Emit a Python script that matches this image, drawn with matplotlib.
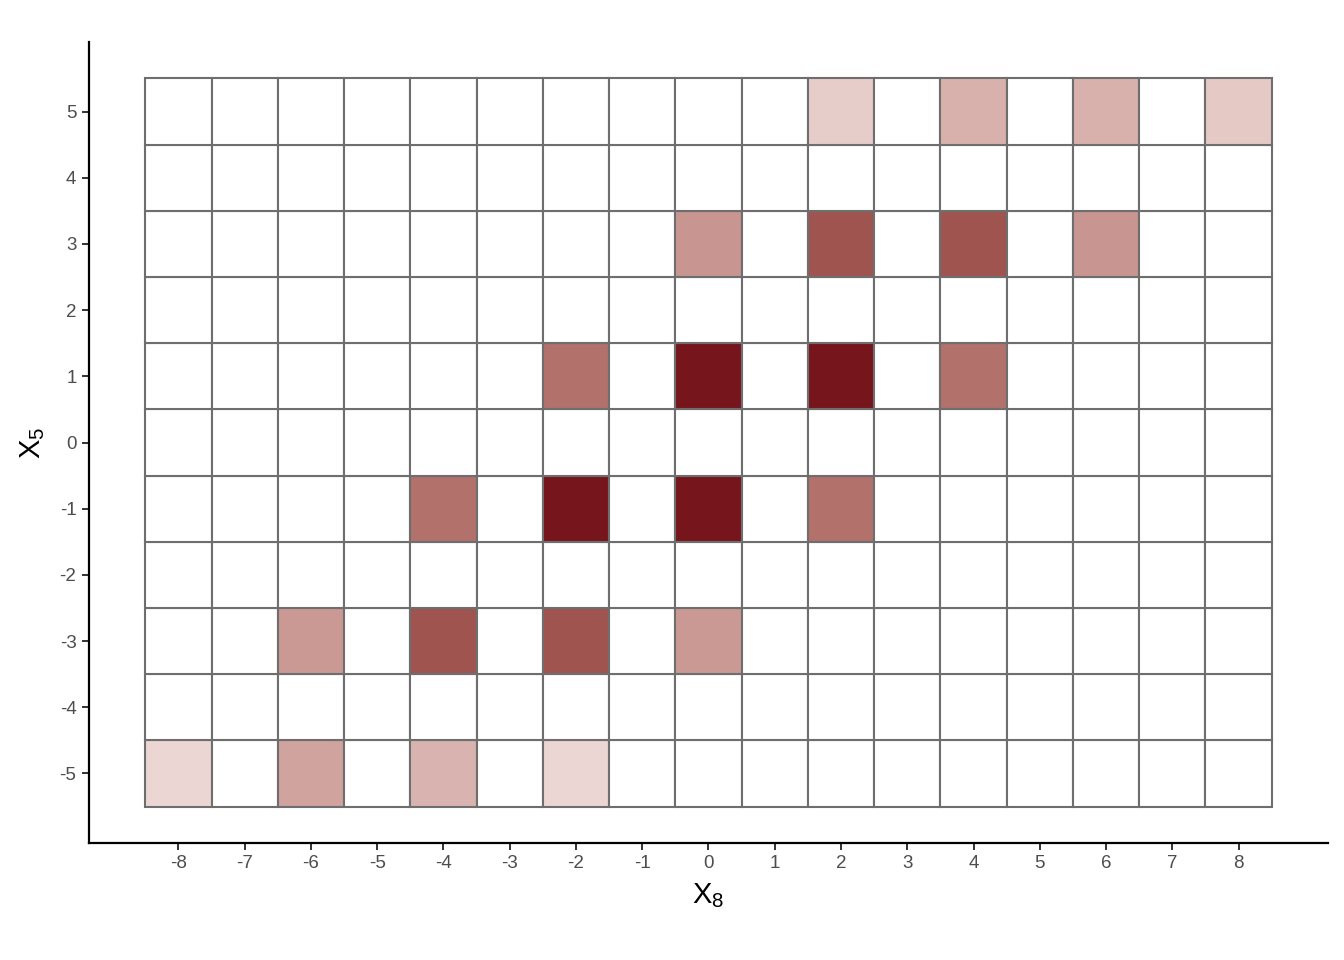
import matplotlib
matplotlib.use("Agg")
import matplotlib.pyplot as plt
import numpy as np
from matplotlib.colors import ListedColormap, to_rgb

plt.rcParams['font.family'] = ['Liberation Sans', 'DejaVu Sans']
plt.rcParams['mathtext.fontset'] = 'custom'
plt.rcParams['mathtext.rm'] = 'Liberation Sans'
plt.rcParams['axes.unicode_minus'] = False

x_levels = list(range(-8, 9))
y_levels = list(range(-5, 6))

# non-zero cells (x8, x5, weight)
cell_x = [2, 4, 6, 8,
          0, 2, 4, 6,
          -2, 0, 2, 4,
          -4, -2, 0, 2,
          -6, -4, -2, 0,
          -8, -6, -4, -2]
cell_y = [5, 5, 5, 5,
          3, 3, 3, 3,
          1, 1, 1, 1,
          -1, -1, -1, -1,
          -3, -3, -3, -3,
          -5, -5, -5, -5]
cell_w = [0.21, 0.33, 0.33, 0.23,
          0.45, 0.74, 0.74, 0.45,
          0.61, 1.00, 1.00, 0.61,
          0.61, 1.00, 1.00, 0.61,
          0.43, 0.74, 0.74, 0.43,
          0.17, 0.39, 0.32, 0.17]

low_col, high_col = "#ffffff", "#76161c"


# Lab interpolation (like ggplot's gradient scale)
def _lin(c):
    c = np.asarray(c)
    return np.where(c <= 0.04045, c / 12.92, ((c + 0.055) / 1.055) ** 2.4)


def _gam(c):
    c = np.clip(c, 0, 1)
    return np.where(c <= 0.0031308, 12.92 * c, 1.055 * c ** (1 / 2.4) - 0.055)


M = np.array([[0.4124, 0.3576, 0.1805], [0.2126, 0.7152, 0.0722], [0.0193, 0.1192, 0.9505]])
Minv = np.linalg.inv(M)
WP = np.array([0.95047, 1.0, 1.08883])


def rgb2lab(rgb):
    xyz = M @ _lin(rgb) / WP
    f = np.where(xyz > (6 / 29) ** 3, np.cbrt(xyz), xyz / (3 * (6 / 29) ** 2) + 4 / 29)
    return np.array([116 * f[1] - 16, 500 * (f[0] - f[1]), 200 * (f[1] - f[2])])


def lab2rgb(lab):
    fy = (lab[0] + 16) / 116
    fx = fy + lab[1] / 500
    fz = fy - lab[2] / 200
    f = np.array([fx, fy, fz])
    xyz = np.where(f > 6 / 29, f ** 3, 3 * (6 / 29) ** 2 * (f - 4 / 29)) * WP
    return _gam(Minv @ xyz)


L0, L1 = rgb2lab(to_rgb(low_col)), rgb2lab(to_rgb(high_col))
cmap = ListedColormap([lab2rgb(L0 + t * (L1 - L0)) for t in np.linspace(0, 1, 256)])

fig = plt.figure(figsize=(13.44, 9.6), dpi=100)
ax = fig.add_axes([89/1344, 1 - 843/960, (1328-89)/1344, (843-42)/960])

W = np.zeros((len(y_levels), len(x_levels)))
for x, y, w in zip(cell_x, cell_y, cell_w):
    W[y_levels.index(y), x_levels.index(x)] = w

for i, y in enumerate(y_levels):
    for j, x in enumerate(x_levels):
        ax.add_patch(plt.Rectangle((x - 0.5, y - 0.5), 1, 1,
                                   facecolor=cmap(W[i, j]), edgecolor='#6e6e6e',
                                   linewidth=1.5, zorder=2))

ax.set_xlim(-9.35, 9.35)
ax.set_ylim(-6.05, 6.05)
ax.set_xticks(x_levels)
ax.set_yticks(y_levels)
ax.tick_params(axis='both', labelsize=13.5, labelcolor='#4d4d4d', color='#333333',
               length=5, width=1.4, pad=4)
for s in ['top', 'right']:
    ax.spines[s].set_visible(False)
for s in ['left', 'bottom']:
    ax.spines[s].set_linewidth(1.6)
    ax.spines[s].set_color('black')

ax.set_xlabel(r'$\mathrm{X}_8$', fontsize=21, labelpad=6)
ax.set_ylabel(r'$\mathrm{X}_5$', fontsize=21, labelpad=9)

fig.savefig("out.png", dpi=100)
